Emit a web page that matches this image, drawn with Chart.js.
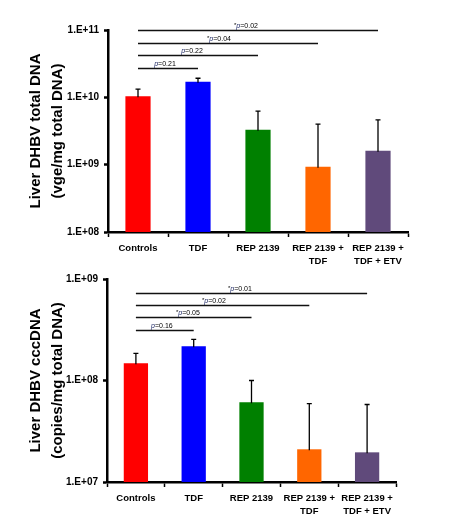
<!DOCTYPE html>
<html>
<head>
<meta charset="utf-8">
<script src="https://cdn.jsdelivr.net/npm/chart.js@4/dist/chart.umd.min.js"></script>
<style>
body { margin: 0; background: #fff; width: 449px; height: 528px; position: relative; overflow: hidden; }
#totalChart { position: absolute; left: 0; top: 0; }
#cccChart { position: absolute; left: 0; top: 270px; }
</style>
</head>
<body>
<canvas id="totalChart" width="449" height="270"></canvas>
<canvas id="cccChart" width="449" height="258"></canvas>
<script>
var groups = ['Controls', 'TDF', 'REP 2139', ['REP 2139 +', 'TDF'], ['REP 2139 +', 'TDF + ETV']];
var barColors = ['#ff0000', '#0000ff', '#008000', '#ff6600', '#604a7b'];

// liver DHBV total DNA (vge/mg)
var totalDna = [1.04e10, 1.7e10, 3.3e9, 9.3e8, 1.61e9];
var totalDnaUpper = [1.32e10, 1.92e10, 6.25e9, 4.0e9, 4.64e9];
var totalTicks = [1e8, 1e9, 1e10, 1e11];
var totalPvalues = ['p=0.21', 'p=0.22', '*p=0.04', '*p=0.02'];
var totalBracketLevels = [2.74e10, 4.26e10, 6.4e10, 1e11];

// liver DHBV cccDNA (copies/mg)
var cccDna = [1.48e8, 2.18e8, 6.1e7, 2.1e7, 1.96e7];
var cccDnaUpper = [1.85e8, 2.54e8, 1.0e8, 5.93e7, 5.8e7];
var cccTicks = [1e7, 1e8, 1e9];
var cccPvalues = ['p=0.16', '*p=0.05', '*p=0.02', '*p=0.01'];
var cccBracketLevels = [3.16e8, 4.2e8, 5.6e8, 7.3e8];

Chart.defaults.font.family = "'Liberation Sans', Arial, sans-serif";
Chart.defaults.color = '#000';

function expLabel(v) {
    var e = Math.round(Math.log10(v));
    return '1.E+' + (e < 10 ? '0' + e : e);
}

// error bars + significance brackets
var annotations = {
    id: 'annotations',
    afterDatasetsDraw: function (chart, args, opts) {
        var ctx = chart.ctx,
            yScale = chart.scales.y,
            bars = chart.getDatasetMeta(0).data;
        ctx.save();
        ctx.strokeStyle = '#000';
        ctx.lineWidth = 1.3;
        opts.upper.forEach(function (u, i) {
            var x = bars[i].x,
                yb = yScale.getPixelForValue(opts.values[i]),
                yu = yScale.getPixelForValue(u);
            ctx.beginPath();
            ctx.moveTo(x, yb + 1);
            ctx.lineTo(x, yu);
            ctx.moveTo(x - 2.5, yu);
            ctx.lineTo(x + 2.5, yu);
            ctx.stroke();
        });

        opts.pvalues.forEach(function (txt, j) {
            var x0 = bars[0].x,
                x1 = bars[j + 1].x,
                yy = Math.round(yScale.getPixelForValue(opts.levels[j])) + 0.5;
            ctx.strokeStyle = '#111';
            ctx.lineWidth = 1.4;
            ctx.beginPath();
            ctx.moveTo(x0, yy);
            ctx.lineTo(x1, yy);
            ctx.stroke();

            var star = txt.charAt(0) === '*',
                rest = txt.replace('*', '').slice(1),
                fam = "'Liberation Sans', Arial, sans-serif";
            ctx.font = '6px ' + fam;
            var ws = star ? ctx.measureText('*').width : 0;
            ctx.font = 'italic 7px ' + fam;
            var wp = ctx.measureText('p').width;
            ctx.font = '7px ' + fam;
            var wr = ctx.measureText(rest).width;
            var cx = x0 + 0.45 * (x1 - x0),
                tx = cx - (ws + wp + wr) / 2,
                ty = yy - 2.5;
            ctx.textBaseline = 'alphabetic';
            ctx.textAlign = 'left';
            ctx.fillStyle = '#000';
            if (star) {
                ctx.font = '6px ' + fam;
                ctx.fillText('*', tx, ty - 1);
                tx += ws;
            }
            ctx.fillStyle = '#1f2a66';
            ctx.font = 'italic 7px ' + fam;
            ctx.fillText('p', tx, ty);
            tx += wp;
            ctx.fillStyle = '#000';
            ctx.font = '7px ' + fam;
            ctx.fillText(rest, tx, ty);
        });
        ctx.restore();
    }
};

function drawChart(canvas, values, upper, ticks, pvalues, levels, title, box) {
    return new Chart(canvas, {
        type: 'bar',
        data: {
            labels: groups,
            datasets: [{
                data: values,
                backgroundColor: barColors,
                borderWidth: 0,
                categoryPercentage: 1,
                barPercentage: 0.42
            }]
        },
        options: {
            responsive: false,
            animation: false,
            layout: { padding: { left: 0, top: box.top, right: box.right, bottom: 0 } },
            plugins: {
                legend: { display: false },
                tooltip: { enabled: false },
                annotations: { values: values, upper: upper, pvalues: pvalues, levels: levels }
            },
            scales: {
                x: {
                    offset: true,
                    afterFit: function (s) { s.height = box.xHeight; s.paddingLeft = 0; s.paddingRight = 0; },
                    border: { color: '#000', width: 2.5 },
                    grid: { drawOnChartArea: false, offset: true, tickLength: 5, tickWidth: 1.5, tickColor: '#000' },
                    ticks: {
                        color: '#000', padding: 4, maxRotation: 0, autoSkip: false,
                        font: { size: 9.5, weight: 'bold', lineHeight: 1.45 }
                    }
                },
                y: {
                    type: 'logarithmic',
                    min: ticks[0],
                    max: ticks[ticks.length - 1],
                    afterBuildTicks: function (s) {
                        s.ticks = ticks.map(function (v) { return { value: v, major: false }; });
                    },
                    afterFit: function (s) { s.width = box.left; s.paddingTop = 0; s.paddingBottom = 0; },
                    border: { color: '#000', width: 2.5 },
                    grid: { drawOnChartArea: false, tickLength: 4, tickWidth: 2.5, tickColor: '#000' },
                    ticks: {
                        color: '#000', padding: 5,
                        font: { size: 10, weight: 'bold' },
                        callback: function (v) { return expLabel(v); }
                    },
                    title: {
                        display: true,
                        text: title,
                        color: '#000',
                        font: { size: 15, weight: 'bold', lineHeight: 1.45 },
                        padding: { top: 25, bottom: 0 }
                    }
                }
            }
        },
        plugins: [annotations]
    });
}

drawChart(document.getElementById('totalChart'), totalDna, totalDnaUpper, totalTicks,
    totalPvalues, totalBracketLevels, ['Liver DHBV total DNA', '(vge/mg total DNA)'],
    { top: 30, right: 41, left: 108, xHeight: 38 });

drawChart(document.getElementById('cccChart'), cccDna, cccDnaUpper, cccTicks,
    cccPvalues, cccBracketLevels, ['Liver DHBV cccDNA', '(copies/mg total DNA)'],
    { top: 9, right: 53, left: 107, xHeight: 46 });
</script>
</body>
</html>
